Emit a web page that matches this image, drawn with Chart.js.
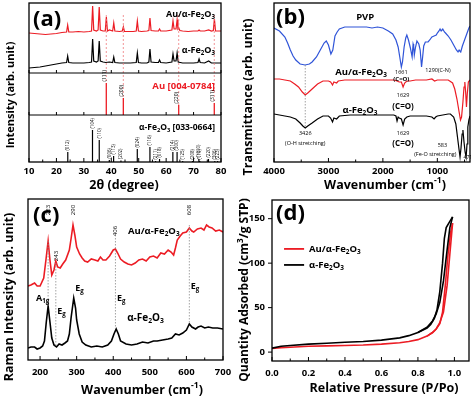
<!DOCTYPE html>
<html>
<head>
<meta charset="utf-8">
<script src="https://cdn.jsdelivr.net/npm/chart.js@4.4.0/dist/chart.umd.min.js"></script>
<style>
  body { margin: 0; background: #fff; }
  #wrap { position: relative; width: 474px; height: 398px; }
  canvas { position: absolute; }
</style>
</head>
<body>
<div id="wrap">
  <canvas id="xrd" width="237" height="198" style="left:0;top:0"></canvas>
  <canvas id="ftir" width="237" height="198" style="left:237px;top:0"></canvas>
  <canvas id="raman" width="237" height="200" style="left:0;top:198px"></canvas>
  <canvas id="bet" width="237" height="200" style="left:237px;top:198px"></canvas>
</div>
<script>
// ---- (a) XRD patterns: [2theta, intensity above own baseline]
const xrdAuFe = [[10,0],[12,-0.5],[14,-1],[16,-1.5],[18,-1],[20,-0.5],[22,0.5],[23.7,1],[24.1,8],[24.5,1],[26,1],[28,1.5],[30,1],[32,1.5],[32.8,2],[33.2,27],[33.6,3],[34.6,2],[35.2,3],[35.6,26],[36,3],[37,2],[37.8,2],[38.2,16],[38.6,2],[39.3,3],[40.5,2],[40.9,10],[41.3,2],[43,1.5],[44,2],[44.4,6],[44.8,1.5],[46,1.5],[48,1.5],[49.1,2],[49.5,12],[49.9,2],[51,1.5],[53,2],[53.7,2.5],[54.1,15],[54.5,2.5],[56,2],[57.2,2],[57.6,4],[58,2],[60,2],[62.1,3],[62.5,12],[62.9,4],[63.6,4],[64,13],[64.3,4],[64.6,5],[65,2.5],[66,2],[68,1.5],[70,2],[71.6,2],[72,3],[72.4,2],[74,2],[75.5,3],[76.5,2],[77.2,2.5],[77.6,14],[78,2],[80,2]];
const xrdFe = [[10,0],[12,0.5],[14,1],[16,2],[18,3],[20,4],[22,5],[23.7,5.5],[24.1,12],[24.5,5.5],[26,5],[28,5],[30,5],[32,5.5],[32.8,6],[33.2,29],[33.6,7],[34.6,6],[35.2,7],[35.6,27],[36,7],[37,6],[38,5.5],[39.3,6],[40.5,5.5],[40.9,11],[41.3,5.5],[43,5],[45,5],[47,5],[49.1,5.5],[49.5,15],[49.9,5.5],[51,5],[53,5],[53.7,6],[54.1,19],[54.5,6],[56,5.5],[57.2,5.5],[57.6,8],[58,5.5],[60,5],[62.1,6],[62.5,14],[62.9,7],[63.6,7],[64,15],[64.4,6],[66,5],[68,5],[70,5],[71.6,5.5],[72,9],[72.4,5.5],[74,5],[75.5,7],[76.5,5],[78,5],[80,5]];
const auRefPos = [38.18, 44.39, 64.58, 77.55];
const auRefInt = [32, 17, 10, 12];
const auRefHkl = ['(111)', '(200)', '(220)', '(311)'];
const feRefPos = [24.14, 33.15, 35.61, 39.28, 40.85, 43.52, 49.48, 54.09, 56.15, 57.59, 62.45, 63.99, 66.03, 69.6, 71.94, 72.26, 75.43, 77.73, 78.76];
const feRefInt = [10, 32, 22, 2, 6, 1.5, 13, 15, 1, 3, 10, 10, 1, 1, 3, 1, 3, 1, 1];
const feRefHkl = ['(012)', '(104)', '(110)', '(006)', '(113)', '(202)', '(024)', '(116)', '(211)', '(018)', '(214)', '(300)', '(125)', '(208)', '(1010)', '(119)', '(220)', '(306)', '(223)'];
const xrdTicks = [10, 20, 30, 40, 50, 60, 70, 80];

// ---- (b) FTIR: [wavenumber, transmittance (arb.)]
const ftirPVP = [[4000,134],[3900,131],[3800,125],[3750,119],[3700,112],[3650,106],[3600,102],[3520,98],[3430,97],[3350,98],[3300,100],[3220,105],[3150,112],[3080,119],[3040,121],[3000,117],[2955,108],[2920,112],[2880,126],[2840,130],[2800,133],[2700,135],[2500,135],[2300,135],[2200,134],[2100,135],[2000,134],[1900,131],[1820,128],[1760,122],[1720,115],[1690,105],[1661,95],[1640,100],[1610,115],[1580,124],[1560,127],[1530,122],[1495,114],[1463,105],[1445,118],[1435,116],[1423,107],[1400,115],[1375,121],[1340,118],[1315,112],[1290,95],[1270,105],[1250,116],[1220,120],[1170,120],[1140,122],[1100,125],[1060,126],[1020,127],[1000,129],[970,131],[950,133],[930,131],[900,133],[870,130],[850,129],[800,126],[750,122],[700,117],[650,112],[620,110],[600,112],[570,110],[540,116],[500,122],[460,128],[420,134],[400,136]];
const ftirAuFe = [[4000,83],[3900,83],[3800,82],[3700,81],[3620,78],[3550,75],[3480,70],[3426,67],[3380,69],[3300,73],[3200,78],[3100,81],[3000,81],[2960,80],[2925,77],[2900,80],[2850,79],[2820,81],[2700,82],[2500,82],[2300,82],[2100,82],[1900,82],[1800,82],[1740,81],[1700,80],[1660,80],[1629,75],[1600,79],[1560,81],[1500,81],[1400,82],[1300,82],[1200,82],[1100,83],[1050,81],[1000,82],[900,82],[800,82],[720,79],[680,73],[640,63],[600,50],[575,42],[555,45],[530,60],[510,75],[495,80],[480,70],[465,55],[450,68],[430,80],[400,82]];
const ftirFe = [[4000,48],[3900,47],[3800,46],[3700,45],[3600,43],[3520,39],[3470,36],[3426,34],[3380,36],[3300,39],[3200,43],[3100,46],[3000,46],[2960,44],[2925,40],[2900,44],[2850,43],[2800,46],[2600,47],[2400,47],[2200,47],[2000,47],[1800,47],[1760,46],[1740,41],[1720,45],[1700,44],[1660,43],[1629,37],[1600,43],[1560,45],[1500,46],[1400,46],[1300,46],[1200,46],[1100,45],[1060,43],[1030,45],[1000,46],[900,47],[800,48],[760,48],[700,45],[660,38],[630,25],[600,12],[583,5],[565,14],[545,28],[530,32],[510,20],[490,10],[471,5],[455,18],[440,35],[420,42],[400,46]];
const ftirTicks = [1000, 2000, 3000, 4000];

// ---- (c) Raman: [wavenumber, intensity (arb.)]
const ramanAuFe = [[167,74],[175,75],[185,77],[192,74],[200,74],[210,82],[216,100],[222,119],[227,100],[232,85],[238,90],[243,99],[248,93],[255,92],[262,96],[270,100],[280,110],[285,122],[290,135],[295,125],[300,113],[308,106],[315,102],[322,99],[330,98],[340,101],[350,100],[358,99],[365,103],[372,100],[380,100],[390,104],[400,110],[406,111],[412,107],[420,101],[430,98],[440,96],[450,95],[460,97],[470,100],[480,101],[490,99],[500,103],[510,104],[520,102],[530,107],[540,106],[550,110],[558,108],[565,105],[570,112],[575,120],[583,124],[590,127],[600,128],[608,132],[615,129],[620,128],[630,131],[640,132],[648,130],[655,135],[662,133],[670,132],[680,129],[690,130],[700,128]];
const ramanFe = [[167,12],[175,13],[185,13],[192,11],[200,12],[207,14],[212,19],[217,38],[222,54],[227,38],[232,22],[238,15],[245,13],[252,16],[260,15],[268,17],[275,19],[280,26],[285,43],[292,62],[297,52],[300,40],[307,26],[315,18],[325,15],[340,13],[355,14],[370,13],[385,15],[395,19],[402,26],[408,31],[414,26],[420,19],[435,16],[450,15],[465,16],[480,18],[495,17],[510,19],[520,19],[535,20],[550,21],[560,22],[570,26],[580,25],[590,27],[600,30],[608,36],[615,33],[625,31],[632,33],[640,34],[650,32],[660,33],[672,32],[685,32],[700,31]];
const ramanTicks = [200, 300, 400, 500, 600, 700];

// ---- (d) N2 isotherms: [P/Po, quantity adsorbed]
const betFeAds = [[0,4.5],[0.05,6.5],[0.1,7.5],[0.2,9],[0.3,10],[0.4,11],[0.5,12],[0.6,13.5],[0.7,16],[0.75,18.5],[0.8,22],[0.85,28],[0.88,35],[0.9,43],[0.92,56],[0.94,80],[0.96,115],[0.975,140],[0.99,152]];
const betFeDes = [[0.99,152],[0.975,147],[0.955,140],[0.945,128],[0.935,100],[0.92,68],[0.905,48],[0.89,38],[0.87,31],[0.85,27],[0.8,22]];
const betAuAds = [[0,4],[0.05,5],[0.1,5.5],[0.2,6.5],[0.3,7],[0.4,7.5],[0.5,8],[0.6,9],[0.7,10.5],[0.75,12],[0.8,14],[0.85,18],[0.88,22],[0.9,26],[0.92,33],[0.94,45],[0.96,75],[0.975,110],[0.99,145]];
const betAuDes = [[0.99,145],[0.98,135],[0.965,110],[0.95,75],[0.935,45],[0.92,32],[0.9,26],[0.88,22],[0.85,18]];
const betXTicks = [0, 0.2, 0.4, 0.6, 0.8, 1.0];
const betYTicks = [0, 50, 100, 150];

const RED = '#ec1c24', BLUE = '#2f54d8', GRAY = '#8c8c8c';
const FONT = '"Open Sans", "DejaVu Sans", sans-serif';

// stacking offsets inside panel (a)
const AUFE_BASE = 129, FE_BASE = 94, AU_REF_BASE = 47, FE_REF_BASE = 0;

function pts(arr, off) {
  return arr.map(p => ({ x: p[0], y: p[1] + (off || 0) }));
}
function sticks(pos, hts, base) {
  const d = [];
  pos.forEach((p, i) => d.push({ x: p, y: base }, { x: p, y: base + hts[i] }, { x: p, y: null }));
  return d;
}
function vlines(pos, from, to) {
  const d = [];
  pos.forEach((p, i) => d.push({ x: p, y: from[i] }, { x: p, y: to[i] }, { x: p, y: null }));
  return d;
}
function ds(data, color, width, dash) {
  return { data, borderColor: color, borderWidth: width, borderDash: dash || [], pointRadius: 0, fill: false, tension: 0, spanGaps: false };
}
function minors(major) {
  const out = [];
  for (let i = 1; i < major.length; i++) out.push((major[i - 1] + major[i]) / 2);
  return out;
}

// text with _{sub} and ^{sup}
function parts(s) {
  const out = [], re = /([_^])\{([^}]*)\}/g;
  let i = 0, m;
  while ((m = re.exec(s))) {
    if (m.index > i) out.push([s.slice(i, m.index), 0]);
    out.push([m[2], m[1] === '_' ? 1 : -1]);
    i = re.lastIndex;
  }
  if (i < s.length) out.push([s.slice(i), 0]);
  return out;
}
function rich(ctx, s, x, y, o) {
  const size = o.size || 9;
  const w = o.bold === false ? 'normal' : 'bold';
  const font = k => w + ' ' + (k ? size * 0.68 : size) + 'px ' + FONT;
  const ps = parts(s);
  let total = 0;
  ps.forEach(p => { ctx.font = font(p[1]); p.w = ctx.measureText(p[0]).width; total += p.w; });
  ctx.save();
  ctx.translate(x, y);
  if (o.rot) ctx.rotate(o.rot);
  let cx = o.align === 'right' ? -total : o.align === 'left' ? 0 : -total / 2;
  ctx.fillStyle = o.color || '#000';
  ctx.textBaseline = 'middle';
  ctx.textAlign = 'left';
  ps.forEach(p => {
    ctx.font = font(p[1]);
    const dy = p[1] === 1 ? size * 0.32 : p[1] === -1 ? -size * 0.35 : 0;
    ctx.fillText(p[0], cx, dy);
    cx += p.w;
  });
  ctx.restore();
}

function tick(ctx, x, y, dx, dy) {
  ctx.beginPath(); ctx.moveTo(x, y); ctx.lineTo(x + dx, y + dy); ctx.stroke();
}

const deco = {
  id: 'deco',
  afterDraw(chart, args, o) {
    const { ctx, chartArea: a, scales: { x, y } } = chart;
    ctx.save();
    ctx.strokeStyle = '#000';
    ctx.lineWidth = 1;
    (o.hLines || []).forEach(v => {
      const py = y.getPixelForValue(v);
      ctx.beginPath(); ctx.moveTo(a.left, py); ctx.lineTo(a.right, py); ctx.stroke();
      (o.xMajor || []).forEach(t => tick(ctx, x.getPixelForValue(t), py, 0, -3));
    });
    ctx.lineWidth = 1.3;
    ctx.strokeRect(a.left, a.top, a.width, a.height);
    ctx.lineWidth = 1;
    (o.xMajor || []).forEach(t => tick(ctx, x.getPixelForValue(t), a.bottom, 0, -4));
    (o.xMinor || []).forEach(t => tick(ctx, x.getPixelForValue(t), a.bottom, 0, -2.5));
    (o.yOut || []).forEach(t => tick(ctx, a.left, y.getPixelForValue(t), -4, 0));
    (o.swatches || []).forEach(s => {
      ctx.strokeStyle = s.color; ctx.lineWidth = 1.8;
      const py = y.getPixelForValue(s.y);
      ctx.beginPath(); ctx.moveTo(x.getPixelForValue(s.x1), py); ctx.lineTo(x.getPixelForValue(s.x2), py); ctx.stroke();
    });
    (o.notes || []).forEach(n => rich(ctx, n.t, x.getPixelForValue(n.x), y.getPixelForValue(n.y), n));
    (o.titles || []).forEach(n => rich(ctx, n.t, n.px, n.py, n));
    ctx.restore();
  }
};

function panel(id, area, xs, ys, datasets, decoOpts) {
  const cv = document.getElementById(id);
  const tickFont = { family: FONT, size: 9.5, weight: 'bold' };
  const setTicks = list => s => { s.ticks = (list || []).map(v => ({ value: v })); };
  return new Chart(cv, {
    type: 'line',
    data: { datasets },
    options: {
      responsive: false,
      animation: false,
      devicePixelRatio: 1,
      layout: { padding: { left: 0, top: area.top, right: cv.width - area.right, bottom: 0 } },
      plugins: { legend: { display: false }, tooltip: { enabled: false }, deco: decoOpts },
      scales: {
        x: {
          type: 'linear', min: xs.min, max: xs.max, reverse: !!xs.reverse,
          grid: { display: false, drawTicks: false },
          border: { display: false },
          afterBuildTicks: setTicks(xs.list),
          afterFit: s => { s.height = cv.height - area.bottom; s.paddingLeft = 0; s.paddingRight = 0; },
          ticks: { font: tickFont, color: '#000', autoSkip: false, maxRotation: 0, padding: xs.pad, callback: xs.fmt || (v => String(v)) }
        },
        y: {
          type: 'linear', min: ys.min, max: ys.max,
          grid: { display: false, drawTicks: false },
          border: { display: false },
          afterBuildTicks: setTicks(ys.list),
          afterFit: s => { s.width = area.left; s.paddingTop = 0; s.paddingBottom = 0; },
          ticks: { display: !!ys.list, font: tickFont, color: '#000', padding: 7, callback: v => String(v) }
        }
      }
    },
    plugins: [deco]
  });
}

const UP = -Math.PI / 2;
const XT = 12.5;

// ---------- (a)
const auLineTop = auRefInt.map(h => AU_REF_BASE + h);
panel('xrd', { left: 29, top: 3, right: 221, bottom: 162 },
  { min: 10, max: 80, list: xrdTicks, pad: 4 },
  { min: 0, max: 159 },
  [
    ds(vlines(auRefPos, auRefPos.map(() => 147), auLineTop), '#f07a7e', 0.8, [2, 2]),
    ds(pts(xrdAuFe, AUFE_BASE), RED, 1.2),
    ds(pts(xrdFe, FE_BASE), '#000', 1.2),
    ds(sticks(auRefPos, auRefInt, AU_REF_BASE), RED, 1.3),
    ds(sticks(feRefPos, feRefInt, FE_REF_BASE), '#000', 1.2)
  ],
  {
    hLines: [AU_REF_BASE, 89],
    xMajor: xrdTicks,
    xMinor: minors(xrdTicks),
    notes: [
      { x: 11.5, y: 142, t: '(a)', size: 22, align: 'left' },
      { x: 77.8, y: 148, t: 'Au/α-Fe_{2}O_{3}', size: 9, align: 'right' },
      { x: 77.8, y: 112, t: 'α-Fe_{2}O_{3}', size: 9, align: 'right' },
      { x: 77.8, y: 76, t: 'Au [004-0784]', size: 9.5, align: 'right', color: RED },
      { x: 77.8, y: 34, t: 'α-Fe_{2}O_{3} [033-0664]', size: 8.5, align: 'right' }
    ].concat(
      auRefPos.map((p, i) => ({ x: p - 0.6, y: AU_REF_BASE + auRefInt[i] + 1.5, t: auRefHkl[i], size: 5, bold: false, rot: UP, align: 'left' })),
      feRefPos.map((p, i) => ({ x: p, y: FE_REF_BASE + feRefInt[i] + 1.5, t: feRefHkl[i], size: 4.5, bold: false, rot: UP, align: 'left' }))
    ),
    titles: [
      { t: 'Intensity (arb. unit)', px: 11, py: 95, size: 11, rot: UP },
      { t: '2θ (degree)', px: 124, py: 185, size: XT }
    ]
  });

// ---------- (b)
panel('ftir', { left: 37, top: 3, right: 233, bottom: 162 },
  { min: 400, max: 4000, reverse: true, list: ftirTicks, pad: 4 },
  { min: 0, max: 159 },
  [
    ds(vlines([3426], [97], [34]), GRAY, 0.8, [1.5, 1.5]),
    ds(pts(ftirPVP), BLUE, 1.2),
    ds(pts(ftirAuFe), RED, 1.2),
    ds(pts(ftirFe), '#000', 1.2)
  ],
  {
    xMajor: ftirTicks,
    xMinor: [500].concat(minors(ftirTicks)),
    notes: [
      { x: 3963, y: 144, t: '(b)', size: 22, align: 'left' },
      { x: 2325, y: 145, t: 'PVP', size: 9.5 },
      { x: 1661, y: 90, t: '1661', size: 5.5, bold: false },
      { x: 1661, y: 83, t: '(C=O)', size: 6 },
      { x: 1220, y: 92, t: '1290(C-N)', size: 5.5, bold: false, align: 'left' },
      { x: 2400, y: 90, t: 'Au/α-Fe_{2}O_{3}', size: 9.5 },
      { x: 1629, y: 67, t: '1629', size: 5.5, bold: false },
      { x: 1629, y: 55, t: '(C=O)', size: 8 },
      { x: 2420, y: 52, t: 'α-Fe_{2}O_{3}', size: 9.5 },
      { x: 3426, y: 29, t: '3426', size: 5.5, bold: false },
      { x: 3426, y: 19, t: '(O-H stretching)', size: 5.5, bold: false },
      { x: 1629, y: 29, t: '1629', size: 5.5, bold: false },
      { x: 1629, y: 18, t: '(C=O)', size: 8 },
      { x: 908, y: 17, t: '583', size: 5.5, bold: false },
      { x: 1037, y: 8, t: '(Fe-O stretching)', size: 5.5, bold: false },
      { x: 440, y: 4, t: '471', size: 5, bold: false }
    ],
    titles: [
      { t: 'Transmittance (arb. unit)', px: 11, py: 97, size: 12.5, rot: UP },
      { t: 'Wavenumber (cm^{-1})', px: 148, py: 185, size: XT }
    ]
  });

// ---------- (c)
const ramanMarks = [222, 243, 406, 608];
panel('raman', { left: 28, top: 1, right: 223, bottom: 162 },
  { min: 167, max: 700, list: ramanTicks, pad: 7 },
  { min: 0, max: 161 },
  [
    ds(vlines(ramanMarks, [119, 97, 122, 135], [54, 13, 31, 36]), GRAY, 0.8, [1.5, 1.5]),
    ds(pts(ramanAuFe), RED, 1.6),
    ds(pts(ramanFe), '#000', 1.6)
  ],
  {
    xMajor: ramanTicks,
    xMinor: minors(ramanTicks),
    notes: [
      { x: 181, y: 144, t: '(c)', size: 22, align: 'left' },
      { x: 440, y: 129, t: 'Au/α-Fe_{2}O_{3}', size: 9.5, align: 'left' },
      { x: 438, y: 42, t: 'α-Fe_{2}O_{3}', size: 10, align: 'left' },
      { x: 189, y: 62, t: 'A_{1g}', size: 9, align: 'left' },
      { x: 247, y: 49, t: 'E_{g}', size: 9, align: 'left' },
      { x: 296, y: 72, t: 'E_{g}', size: 9, align: 'left' },
      { x: 410, y: 62, t: 'E_{g}', size: 9, align: 'left' },
      { x: 612, y: 74, t: 'E_{g}', size: 9, align: 'left' },
      { x: 222, y: 150, t: '223', size: 6, bold: false, rot: UP },
      { x: 245, y: 104, t: '243', size: 6, bold: false, rot: UP },
      { x: 290, y: 150, t: '290', size: 6, bold: false, rot: UP },
      { x: 406, y: 129, t: '406', size: 6, bold: false, rot: UP },
      { x: 608, y: 150, t: '608', size: 6, bold: false, rot: UP }
    ],
    titles: [
      { t: 'Raman Intensity (arb. unit)', px: 9, py: 99, size: 12.5, rot: UP },
      { t: 'Wavenumber (cm^{-1})', px: 142, py: 192, size: XT }
    ]
  });

// ---------- (d)
panel('bet', { left: 35, top: 2, right: 232, bottom: 163 },
  { min: 0, max: 1.08, list: betXTicks, pad: 7, fmt: v => v.toFixed(1) },
  { min: -10, max: 171, list: betYTicks },
  [
    ds(pts(betFeAds), '#000', 1.6),
    ds(pts(betFeDes), '#000', 1.6),
    ds(pts(betAuAds), RED, 1.6),
    ds(pts(betAuDes), RED, 1.6)
  ],
  {
    xMajor: betXTicks,
    xMinor: minors(betXTicks),
    yOut: betYTicks,
    swatches: [
      { x1: 0.066, x2: 0.176, y: 116, color: RED },
      { x1: 0.066, x2: 0.176, y: 98, color: '#000' }
    ],
    notes: [
      { x: 0.022, y: 156, t: '(d)', size: 22, align: 'left' },
      { x: 0.203, y: 116, t: 'Au/α-Fe_{2}O_{3}', size: 9.5, align: 'left' },
      { x: 0.203, y: 98, t: 'α-Fe_{2}O_{3}', size: 9.5, align: 'left' }
    ],
    titles: [
      { t: 'Quantity Adsorbed (cm^{3}/g STP)', px: 8, py: 92, size: 12, rot: UP },
      { t: 'Relative Pressure (P/Po)', px: 147, py: 190, size: XT }
    ]
  });
</script>
</body>
</html>
